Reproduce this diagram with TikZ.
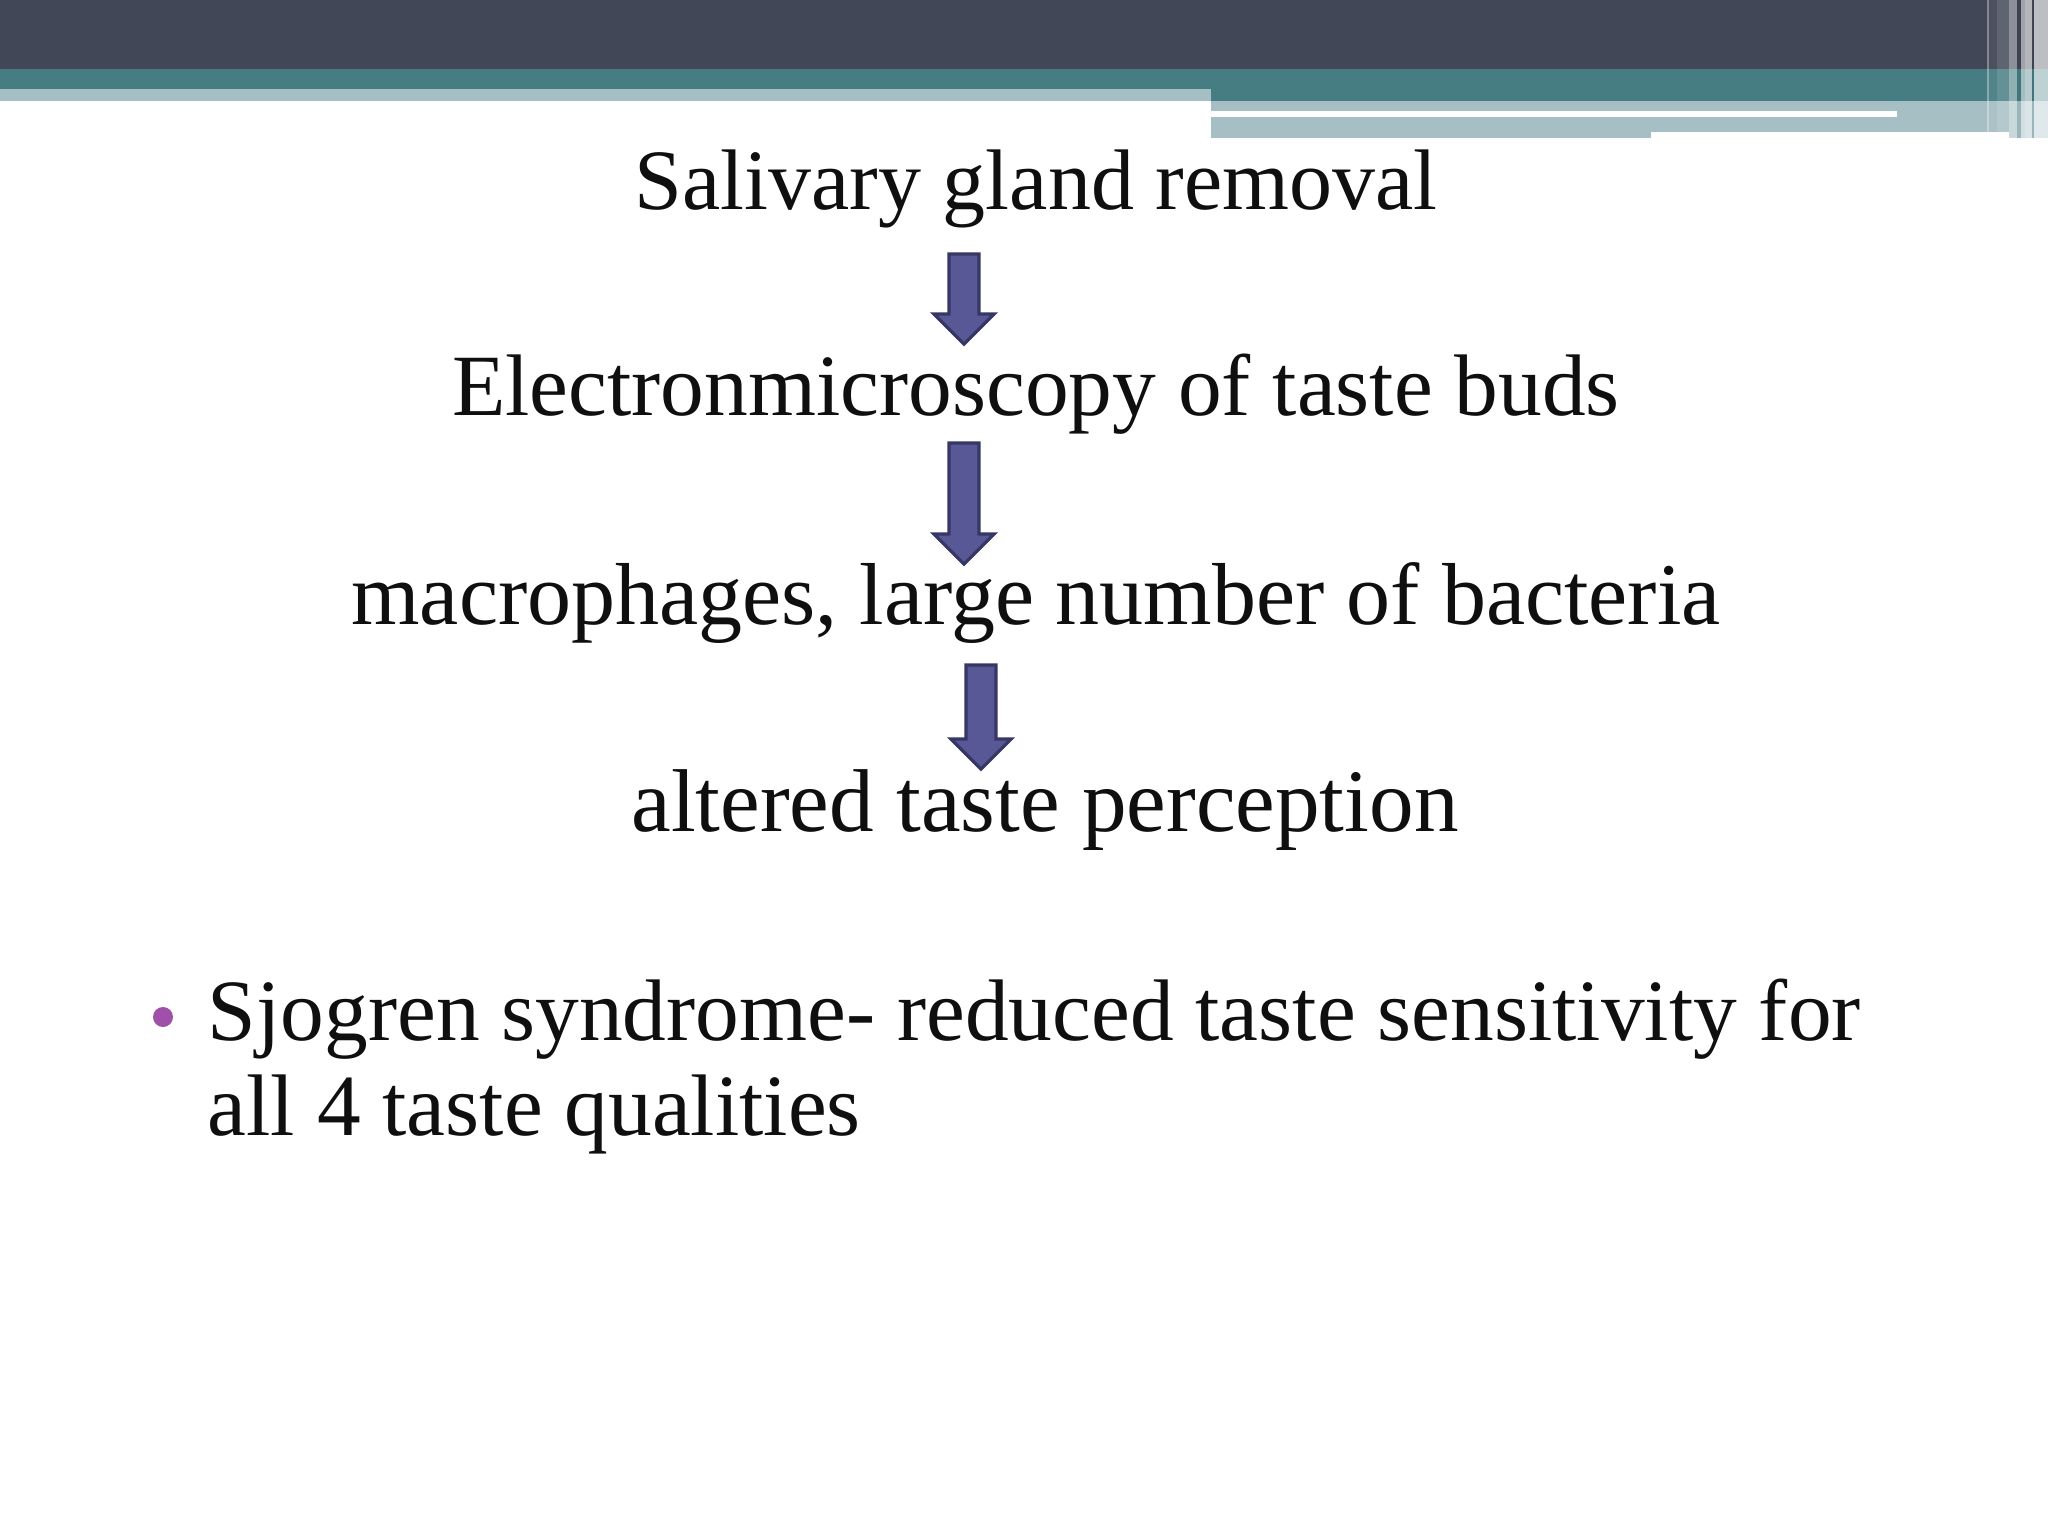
\documentclass[tikz,border=0pt]{standalone}
\usepackage{fontspec}
\setmainfont{Liberation Serif}
\definecolor{bandDark}{RGB}{65,71,86}
\definecolor{bandTeal}{RGB}{70,125,131}
\definecolor{bandLight}{RGB}{165,191,196}
\definecolor{arrowFill}{RGB}{88,88,150}
\definecolor{arrowLine}{RGB}{55,55,102}
\definecolor{bulletPurple}{RGB}{160,80,168}
\definecolor{txt}{RGB}{15,15,15}
\tikzset{
  flowtext/.style={anchor=base, inner sep=0pt, text=txt, font=\fontsize{#1}{26}\selectfont},
  flowtext/.default=21.5,
  bullettext/.style={anchor=base west, inner sep=0pt, text=txt, font=\fontsize{21.85}{26}\selectfont},
  blockarrow/.style={fill=arrowFill, draw=arrowLine, line width=0.8pt, line join=miter},
}
\newcommand{\myblockarrow}[3]{% center x, top y, tip y
  \draw[blockarrow] (#1-15,#2) -- (#1+15,#2) -- (#1+15,#3-30) -- (#1+30,#3-30)
    -- (#1,#3) -- (#1-30,#3-30) -- (#1-15,#3-30) -- cycle;}
\begin{document}
\begin{tikzpicture}[x=0.25pt,y=-0.25pt]
\useasboundingbox (0,0) rectangle (2048,1536);
\fill[white] (0,0) rectangle (2048,1536);
% banner
\fill[bandDark] (0,0) rectangle (2048,69);
\fill[bandTeal] (0,69) rectangle (2048,89);
\fill[bandTeal] (1211,89) rectangle (2048,100.7);
\fill[bandLight] (0,89) rectangle (1211,100.7);
\fill[bandLight] (1211,100.7) rectangle (2048,131.7);
\fill[bandLight] (1211,131.7) rectangle (1651,138);
\fill[bandLight] (2009,131.7) rectangle (2048,138);
\fill[white] (1211,111) rectangle (1897,117.3);
% vertical stripes
\fill[white,opacity=0.35] (1987,0) rectangle (1989,131.7);
\fill[white,opacity=0.06] (1989,0) rectangle (1997,131.7);
\fill[white,opacity=0.16] (1997,0) rectangle (2009,131.7);
\fill[white,opacity=0.40] (2009,0) rectangle (2017,138);
\fill[black,opacity=0.05] (2017,0) rectangle (2021,138);
\fill[white,opacity=0.50] (2021,0) rectangle (2025,138);
\fill[white,opacity=0.60] (2025,0) rectangle (2032,138);
\fill[black,opacity=0.05] (2032,0) rectangle (2034,138);
\fill[white,opacity=0.65] (2034,0) rectangle (2048,138);
% flow texts
\node[flowtext] (n1) at (1036,209) {Salivary gland removal};
\node[flowtext=21.85] (n2) at (1036,415) {Electronmicroscopy of taste buds};
\node[flowtext=22.0] (n3) at (1036,624) {macrophages, large number of bacteria};
\node[flowtext=22.3] (n4) at (1045,831) {altered taste perception};
% block arrows
\myblockarrow{964}{254}{344}
\myblockarrow{964}{443}{564}
\myblockarrow{981}{665}{769}
% bullet
\fill[bulletPurple] (163,1017) circle (10);
\node[bullettext] (b1) at (207,1040) {Sjogren syndrome- reduced taste sensitivity for};
\node[bullettext] (b2) at (207,1135) {all 4 taste qualities};
\end{tikzpicture}
\end{document}
